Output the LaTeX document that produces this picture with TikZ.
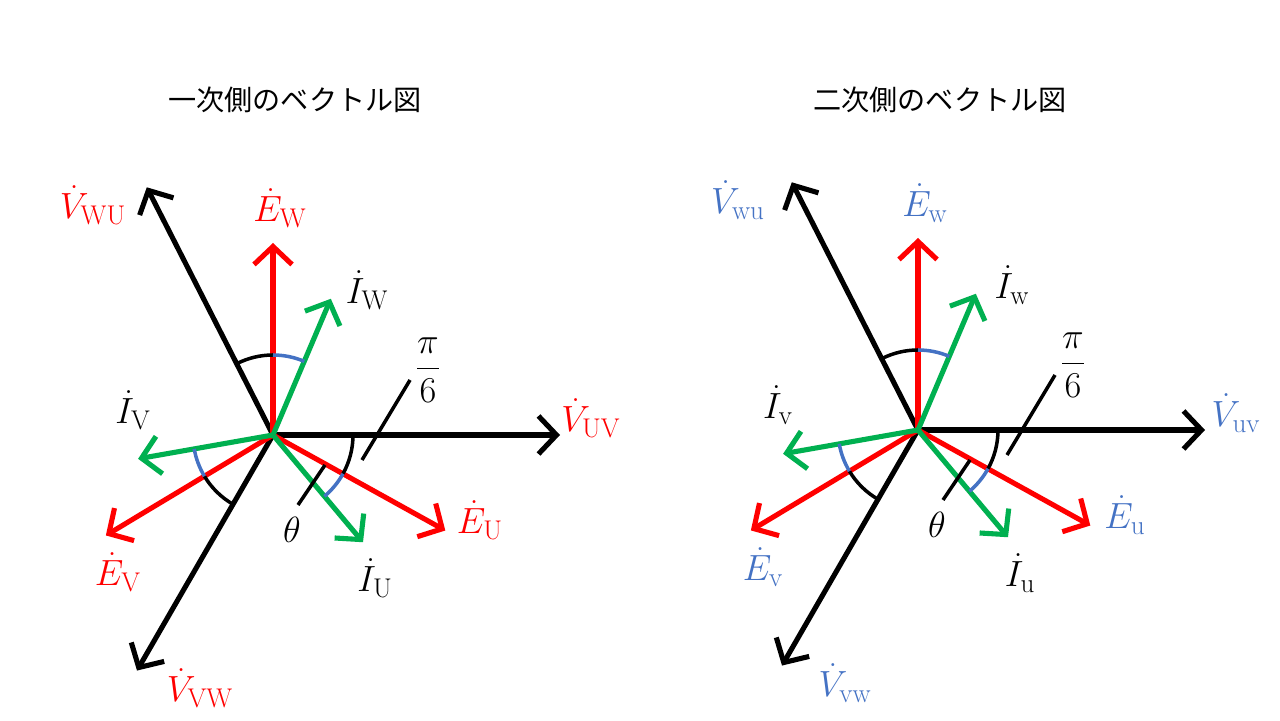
\documentclass[tikz,border=0pt]{standalone}
\usepackage{amsmath}
\usepackage{xcolor}
\usepackage{fontspec}
\usetikzlibrary{arrows.meta}
\newfontfamily\cjk{Noto Sans CJK JP}
\definecolor{vred}{HTML}{FF0000}
\definecolor{vgreen}{HTML}{00B050}
\definecolor{vblue}{HTML}{4472C4}
\tikzset{
  vec/.style={line width=2.9pt, -{Straight Barb[length=0.36cm, width=0.76cm]}},
  arcline/.style={line width=2pt},
  lbl/.style={font=\fontsize{22}{26}\selectfont, inner sep=0pt},
  ttl/.style={font=\cjk\fontsize{16}{20}\selectfont}
}
% one phasor diagram: origin, label colour, subscripts uv wu vw u w v
\newcommand{\phasorfig}[9]{
  \coordinate (#1) at #2;
  % line-to-line voltages
  \draw[vec] (#1) -- ++(0:287) coordinate (#1vuv);
  \draw[vec] (#1) -- ++(117:278) coordinate (#1vwu);
  \draw[vec] (#1) -- ++(240:272) coordinate (#1vvw);
  % phase voltages
  \draw[vec, vred] (#1) -- ++(90:192) coordinate (#1ew);
  \draw[vec, vred] (#1) -- ++(-29:197) coordinate (#1eu);
  \draw[vec, vred] (#1) -- ++(211:195) coordinate (#1ev);
  % currents
  \draw[vec, vgreen] (#1) -- ++(67:148) coordinate (#1iw);
  \draw[vec, vgreen] (#1) -- ++(-50:140) coordinate (#1iu);
  \draw[vec, vgreen] (#1) -- ++(190:137) coordinate (#1iv);
  % angle arcs
  \draw[arcline] ([shift={(117:80)}]#1) arc (117:90:80);
  \draw[arcline, vblue] ([shift={(90:80)}]#1) arc (90:67:80);
  \draw[arcline] ([shift={(0:80)}]#1) arc (0:-29:80);
  \draw[arcline, vblue] ([shift={(-29:80)}]#1) arc (-29:-50:80);
  \draw[arcline] ([shift={(240:80)}]#1) arc (240:211:80);
  \draw[arcline, vblue] ([shift={(211:80)}]#1) arc (211:190:80);
  % leaders
  \draw[arcline] ([shift={(89,-25)}]#1) -- ([shift={(137,55)}]#1) coordinate (#1pl);
  \draw[arcline] ([shift={(25,-70)}]#1) -- ([shift={(52,-30)}]#1) coordinate (#1tl);
  \node[lbl] (#1pi) at ([shift={(155,65)}]#1) {$\dfrac{\pi}{6}$};
  \node[lbl] (#1th) at ([shift={(19,-95)}]#1) {$\theta$};
  % labels
  \node[lbl, text=#3] (#1Luv) at ([shift={(318,17)}]#1) {$\dot{V}_{\mathrm{#4}}$};
  \node[lbl, text=#3] (#1Lwu) at ([shift={(-180,230)}]#1) {$\dot{V}_{\mathrm{#5}}$};
  \node[lbl, text=#3] (#1Lvw) at ([shift={(-73,-253)}]#1) {$\dot{V}_{\mathrm{#6}}$};
  \node[lbl, text=#3] (#1Lew) at ([shift={(7,227)}]#1) {$\dot{E}_{\mathrm{#8}}$};
  \node[lbl, text=#3] (#1Leu) at ([shift={(207,-85)}]#1) {$\dot{E}_{\mathrm{#7}}$};
  \node[lbl, text=#3] (#1Lev) at ([shift={(-155,-137)}]#1) {$\dot{E}_{\mathrm{#9}}$};
  \node[lbl] (#1Liw) at ([shift={(94,145)}]#1) {$\dot{I}_{\mathrm{#8}}$};
  \node[lbl] (#1Liu) at ([shift={(102,-143)}]#1) {$\dot{I}_{\mathrm{#7}}$};
  \node[lbl] (#1Liv) at ([shift={(-140,25)}]#1) {$\dot{I}_{\mathrm{#9}}$};
}
\begin{document}
\begin{tikzpicture}[x=0.02cm, y=0.02cm]
  \useasboundingbox (0,0) rectangle (1280,720);
  \fill[white] (0,0) rectangle (1280,720);

  % primary side
  \node[ttl] (t1) at (295,620) {一次側のベクトル図};
  \phasorfig{A}{(273,285)}{vred}{UV}{WU}{VW}{U}{W}{V}

  % secondary side
  \node[ttl] (t2) at (940,620) {二次側のベクトル図};
  \phasorfig{B}{(918,290)}{vblue}{uv}{wu}{vw}{u}{w}{v}
\end{tikzpicture}
\end{document}
